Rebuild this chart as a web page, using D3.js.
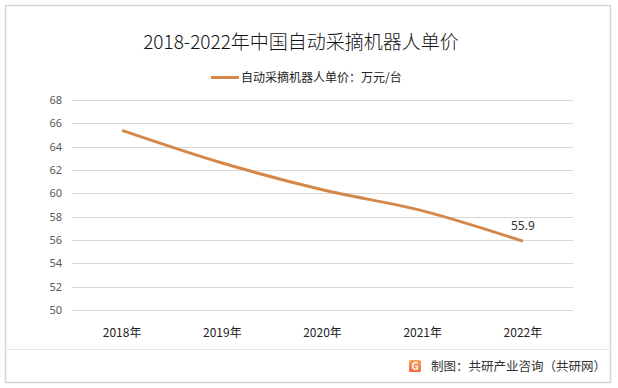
<!DOCTYPE html>
<html>
<head>
<meta charset="utf-8">
<script src="https://cdn.jsdelivr.net/npm/d3@7"></script>
<style>
  body { margin: 0; background: #fff; }
  text { font-family: "Noto Sans CJK SC", "Noto Sans", sans-serif; }
</style>
</head>
<body>
<div id="chart"></div>
<script>
// data
var years = ["2018年", "2019年", "2020年", "2021年", "2022年"];
var prices = [65.4, 62.6, 60.3, 58.5, 55.9];
var yTicks = [50, 52, 54, 56, 58, 60, 62, 64, 66, 68];

var Width = 618;
var Height = 388;

var svg = d3.select("#chart")
  .append("svg")
  .attr("width", Width)
  .attr("height", Height);

// outer frame
svg.append("rect")
  .attr("x", 5.5).attr("y", 5.5)
  .attr("width", 605).attr("height", 377)
  .attr("fill", "#fff")
  .attr("stroke", "#d6d6d6")
  .attr("stroke-width", 1.5);

// title
svg.append("text")
  .attr("x", 301).attr("y", 49)
  .attr("text-anchor", "middle")
  .attr("font-size", 19)
  .attr("font-weight", 300)
  .attr("fill", "#111")
  .text("2018-2022年中国自动采摘机器人单价");

// legend
svg.append("line")
  .attr("x1", 211).attr("x2", 239)
  .attr("y1", 77.5).attr("y2", 77.5)
  .attr("stroke", "#d4894b")
  .attr("stroke-width", 3);
svg.append("text")
  .attr("x", 241).attr("y", 81.5)
  .attr("font-size", 12)
  .attr("fill", "#222")
  .text("自动采摘机器人单价：万元/台");

// scales
var x = d3.scaleBand()
  .domain(years)
  .range([72, 573]);
var y = d3.scaleLinear()
  .domain([50, 68])
  .range([310, 100]);

// gridlines
svg.append("g")
  .selectAll("line")
  .data(yTicks)
  .enter()
  .append("line")
  .attr("x1", 72).attr("x2", 573)
  .attr("y1", function(d) { return Math.round(y(d)) + 0.5; })
  .attr("y2", function(d) { return Math.round(y(d)) + 0.5; })
  .attr("stroke", "#d9d9d9")
  .attr("stroke-width", 1);

// y axis labels
var yAxis = d3.axisLeft(y).tickValues(yTicks).tickSize(0).tickPadding(10);
var gy = svg.append("g")
  .attr("transform", "translate(72,0)")
  .call(yAxis);
gy.select(".domain").remove();
gy.selectAll("text")
  .attr("font-size", 11)
  .attr("fill", "#595959")
  .style("font-family", "'Noto Sans', 'Noto Sans CJK SC', sans-serif");

// x axis labels
var xAxis = d3.axisBottom(x).tickSize(0).tickPadding(0);
var gx = svg.append("g")
  .attr("transform", "translate(0,328)")
  .call(xAxis);
gx.select(".domain").remove();
gx.selectAll("text")
  .attr("font-size", 12)
  .attr("fill", "#222")
  .style("font-family", "'Noto Sans CJK SC', sans-serif");

// line
var line = d3.line()
  .x(function(d, i) { return x(years[i]) + x.bandwidth() / 2; })
  .y(function(d) { return y(d); })
  .curve(d3.curveMonotoneX);

svg.append("path")
  .datum(prices)
  .attr("d", line)
  .attr("fill", "none")
  .attr("stroke", "#d4894b")
  .attr("stroke-width", 3)
  .attr("stroke-linecap", "butt");

// data label on last point
var last = prices.length - 1;
svg.append("text")
  .attr("x", x(years[last]) + x.bandwidth() / 2)
  .attr("y", y(prices[last]) - 11)
  .attr("text-anchor", "middle")
  .attr("font-size", 12)
  .attr("fill", "#333")
  .style("font-family", "'Noto Sans', sans-serif")
  .text(prices[last].toFixed(1));

// separator above footer
svg.append("line")
  .attr("x1", 6).attr("x2", 610)
  .attr("y1", 349.5).attr("y2", 349.5)
  .attr("stroke", "#e6e6e6");

// footer logo
var grad = svg.append("defs").append("linearGradient")
  .attr("id", "logoGrad")
  .attr("x1", 0).attr("y1", 0).attr("x2", 0).attr("y2", 1);
grad.append("stop").attr("offset", "0%").attr("stop-color", "#f7a35c");
grad.append("stop").attr("offset", "100%").attr("stop-color", "#f06a3a");
svg.append("rect")
  .attr("x", 409).attr("y", 360)
  .attr("width", 12).attr("height", 12)
  .attr("rx", 1.5)
  .attr("fill", "url(#logoGrad)");
svg.append("text")
  .attr("x", 415).attr("y", 370)
  .attr("text-anchor", "middle")
  .attr("font-size", 10)
  .attr("font-weight", "bold")
  .attr("fill", "#fff")
  .text("G");

svg.append("text")
  .attr("x", 431).attr("y", 371)
  .attr("font-size", 12.5)
  .attr("fill", "#333")
  .text("制图：共研产业咨询（共研网）");
</script>
</body>
</html>
